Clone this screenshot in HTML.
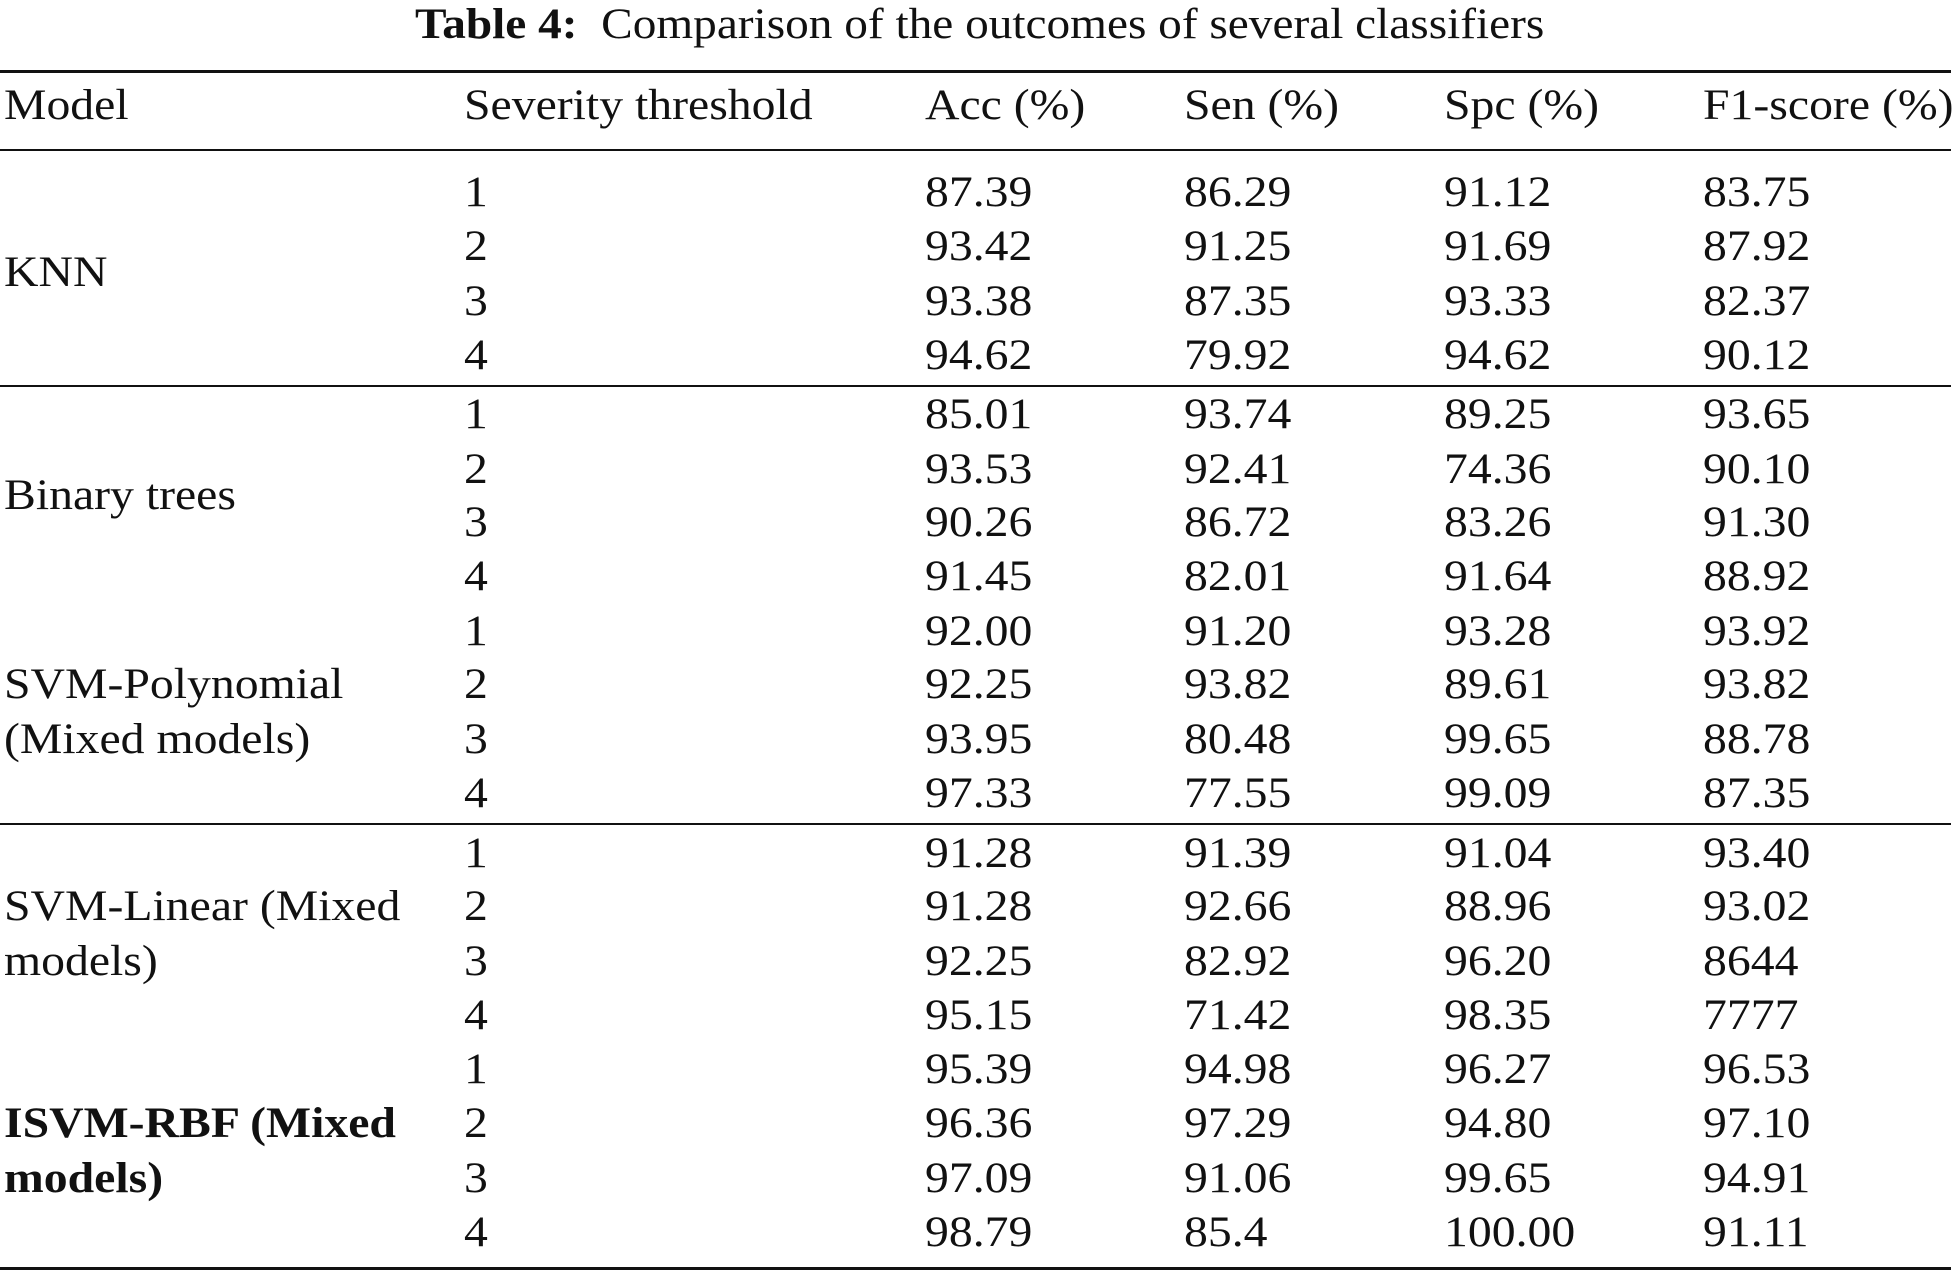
<!DOCTYPE html>
<html><head><meta charset="utf-8"><style>
html,body{margin:0;padding:0;background:#fff;}
body{width:1954px;height:1279px;position:relative;overflow:hidden;font-family:"Liberation Serif",serif;color:#111;}
.t{position:absolute;font-size:43px;line-height:50px;white-space:nowrap;transform:scaleX(1.11);transform-origin:0 50%;}
.r{position:absolute;left:0;width:1951px;background:#111;}
</style></head><body>
<div class="t" style="left:415px;top:0px;font-size:43px;transform:scaleX(1.1);"><b>Table 4:</b>&nbsp; Comparison of the outcomes of several classifiers</div>
<div class="r" style="top:70px;height:3px"></div>
<div class="r" style="top:149px;height:2px"></div>
<div class="r" style="top:385px;height:2px"></div>
<div class="r" style="top:823px;height:2px"></div>
<div class="r" style="top:1267px;height:3px"></div>
<div class="t" style="left:4px;top:81px">Model</div>
<div class="t" style="left:464px;top:81px">Severity threshold</div>
<div class="t" style="left:925px;top:81px">Acc (%)</div>
<div class="t" style="left:1184px;top:81px">Sen (%)</div>
<div class="t" style="left:1444px;top:81px">Spc (%)</div>
<div class="t" style="left:1703px;top:81px">F1-score (%)</div>
<div class="t" style="left:4px;top:248px">KNN</div>
<div class="t" style="left:4px;top:471px">Binary trees</div>
<div class="t" style="left:4px;top:660px">SVM-Polynomial</div>
<div class="t" style="left:4px;top:715px">(Mixed models)</div>
<div class="t" style="left:4px;top:882px">SVM-Linear (Mixed</div>
<div class="t" style="left:4px;top:937px">models)</div>
<div class="t" style="left:4px;top:1099px;font-weight:bold">ISVM-RBF (Mixed</div>
<div class="t" style="left:4px;top:1154px;font-weight:bold">models)</div>
<div id="rows"></div>
<script>
var ys=[193,247,302,356,415,470,523,577,632,685,740,794,854,907,962,1016,1070,1124,1179,1233];
var d=[
["87.39","86.29","91.12","83.75"],["93.42","91.25","91.69","87.92"],["93.38","87.35","93.33","82.37"],["94.62","79.92","94.62","90.12"],
["85.01","93.74","89.25","93.65"],["93.53","92.41","74.36","90.10"],["90.26","86.72","83.26","91.30"],["91.45","82.01","91.64","88.92"],
["92.00","91.20","93.28","93.92"],["92.25","93.82","89.61","93.82"],["93.95","80.48","99.65","88.78"],["97.33","77.55","99.09","87.35"],
["91.28","91.39","91.04","93.40"],["91.28","92.66","88.96","93.02"],["92.25","82.92","96.20","8644"],["95.15","71.42","98.35","7777"],
["95.39","94.98","96.27","96.53"],["96.36","97.29","94.80","97.10"],["97.09","91.06","99.65","94.91"],["98.79","85.4","100.00","91.11"]];
var xs=[925,1184,1444,1703],h="";
for(var i=0;i<20;i++){var t=ys[i]-25;
h+='<div class="t" style="left:464px;top:'+t+'px">'+(i%4+1)+'</div>';
for(var j=0;j<4;j++)h+='<div class="t" style="left:'+xs[j]+'px;top:'+t+'px">'+d[i][j]+'</div>';}
document.getElementById("rows").innerHTML=h;
</script>
</body></html>
